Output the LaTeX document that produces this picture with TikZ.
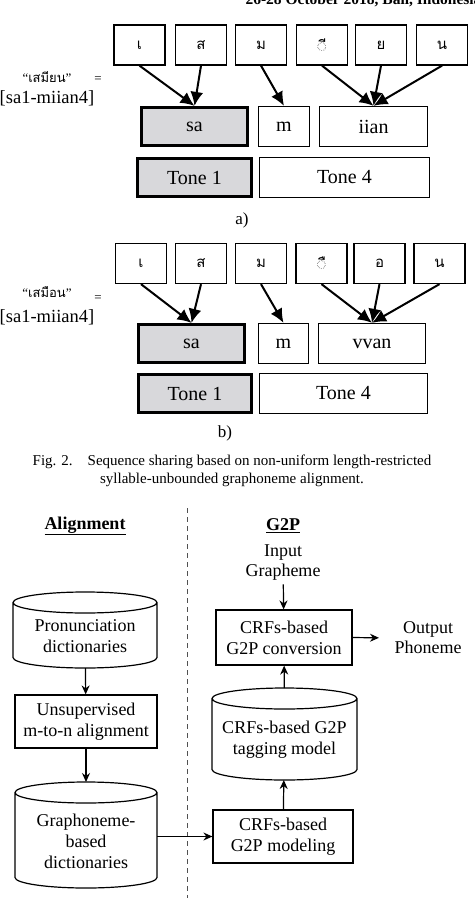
\documentclass[tikz,border=0pt]{standalone}
\usepackage{fontspec}
\setmainfont{Liberation Serif}
\newfontfamily\thaifont[Script=Thai]{Loma}
\usepackage{tikz}
\usepackage{xcolor}
\usetikzlibrary{arrows.meta,positioning,calc}
\definecolor{ashgray}{RGB}{216,216,219}
\definecolor{dashgray}{RGB}{80,80,80}
% text of a cylinder sits lower, below its top cap
\newcommand{\dropped}[2]{\raisebox{-#1}[\height][\depth]{\begin{tabular}{@{}c@{}}#2\end{tabular}}}

\begin{document}
\begin{tikzpicture}[x=1pt, y=-1pt,
  glyph/.style={draw, line width=1.3pt, minimum width=51pt, minimum height=40pt, inner sep=0pt, font=\thaifont\fontsize{15}{17}\selectfont},
  part/.style={draw, line width=1.3pt, minimum height=40pt, inner sep=0pt, font=\fontsize{20}{22}\selectfont},
  shared/.style={part, line width=3.2pt, fill=ashgray, minimum height=38pt},
  link/.style={-{Latex[length=14pt,width=13pt]}, line width=2pt},
  word/.style={font=\fontsize{18.5}{20}\selectfont},
  flowbox/.style={draw, line width=1.2pt, align=center, inner sep=0pt, font=\fontsize{18}{21}\selectfont},
  store/.style={flowbox, draw=none, outer sep=0pt, minimum width=#1pt,
    append after command={\pgfextra{\draw[line width=1.2pt]
      ([yshift=-10.5pt]\tikzlastnode.north west) -- ([yshift=10.5pt]\tikzlastnode.south west)
      arc[start angle=180, end angle=360, x radius=#1pt/2, y radius=10.5pt]
      -- ([yshift=-10.5pt]\tikzlastnode.north east)
      ([yshift=-10.5pt]\tikzlastnode.north) ellipse[x radius=#1pt/2, y radius=10.5pt];}}},
  flow/.style={-{Stealth[length=9pt,width=8pt]}, line width=1.2pt}]
\useasboundingbox (0,0) rectangle (474,917);

% page header
\node[anchor=base west, font=\bfseries\fontsize{15.5}{17}\selectfont] (header) at (242,5) {26-28 October 2018, Bali, Indonesia};

% a) letters of the first word
\node[glyph] (a1) at (139.5,45) {เ};
\node[glyph] (a2) at (201,45) {ส};
\node[glyph] (a3) at (261,45) {ม};
\node[glyph] (a4) at (322,45) {◌ี};
\node[glyph] (a5) at (381,45) {ย};
\node[glyph] (a6) at (442,45) {น};

\node[font=\fontsize{13}{15}\selectfont] (awordth) at (47,77) {“{\thaifont เสมียน}”};
\node[word] (awordro) at (47,98) {[sa1-miian4]};
\node[font=\fontsize{13}{14}\selectfont] (aeq) at (98,80) {=};

% a) units and tones
\node[shared, minimum width=106pt] (asa) at (194.5,126.5) {sa};
\node[part, minimum width=51pt] (am) at (284,126.5) {m};
\node[part, minimum width=108pt] (aiian) at (373.5,126.5) {iian};
\node[shared, minimum width=114pt] (atone1) at (194.5,177.5) {Tone 1};
\node[part, minimum width=170pt] (atone4) at (344.5,177.5) {Tone 4};

\draw[link] (a1.south) -- (asa.north);
\draw[link] (a2.south) -- (asa.north);
\draw[link] (a3.south) -- (am.north);
\draw[link] (a4.south) -- (aiian.north);
\draw[link] (a5.south) -- (aiian.north);
\draw[link] (a6.south) -- (aiian.north);

\node[font=\fontsize{17}{18}\selectfont] (alabel) at (242,220) {a)};

% b) letters of the second word
\node[glyph] (b1) at (141,263.5) {เ};
\node[glyph] (b2) at (201,263.5) {ส};
\node[glyph] (b3) at (261,263.5) {ม};
\node[glyph] (b4) at (321.5,263.5) {◌ื};
\node[glyph] (b5) at (379.5,263.5) {อ};
\node[glyph] (b6) at (439.5,263.5) {น};

\node[font=\fontsize{13}{15}\selectfont] (bwordth) at (47,292) {“{\thaifont เสมือน}”};
\node[word] (bwordro) at (47,317) {[sa1-miian4]};
\node[font=\fontsize{13}{14}\selectfont] (beq) at (98,299) {=};

% b) units and tones
\node[shared, minimum width=106pt] (bsa) at (191.5,343.5) {sa};
\node[part, minimum width=50pt] (bm) at (283.5,343.5) {m};
\node[part, minimum width=107pt] (bvvan) at (372,343.5) {vvan};
\node[shared, minimum width=113pt] (btone1) at (195,393.5) {Tone 1};
\node[part, minimum width=168pt] (btone4) at (343.5,393.5) {Tone 4};

\draw[link] (b1.south) -- (bsa.north);
\draw[link] (b2.south) -- (bsa.north);
\draw[link] (b3.south) -- (bm.north);
\draw[link] (b4.south) -- (bvvan.north);
\draw[link] (b5.south) -- (bvvan.north);
\draw[link] (b6.south) -- (bvvan.north);

\node[font=\fontsize{17}{18}\selectfont] (blabel) at (225,433) {b)};

% caption of fig. 2
\node[align=center, font=\fontsize{15}{18}\selectfont] (caption) at (232,471) {Fig. 2.\hspace{1em}Sequence sharing based on non-uniform length-restricted\\syllable-unbounded graphoneme alignment.};

% overview: two halves
\coordinate (septop) at (187,508);
\coordinate (sepbot) at (187,898);
\draw[dashgray, line width=1pt, dash pattern=on 5pt off 4pt] (septop) -- (sepbot);

\node[font=\bfseries\fontsize{18}{20}\selectfont] (alignhead) at (85,526) {\underline{Alignment}};
\node[font=\bfseries\fontsize{18}{20}\selectfont] (g2phead) at (283,526) {\underline{G2P}};

% alignment side
\node[store=144, minimum height=76pt] (pron) at (85,630) {\dropped{7.5pt}{Pronunciation\\dictionaries}};
\node[flowbox, minimum width=142pt, minimum height=53pt] (unsup) at (86,721.5) {Unsupervised\\m-to-n alignment};
\node[store=142, minimum height=106pt] (grapho) at (86,835) {\dropped{8.5pt}{Graphoneme-\\based\\dictionaries}};

% g2p side
\node[align=center, font=\fontsize{18}{20}\selectfont] (input) at (283,563) {Input\\Grapheme};
\node[flowbox, minimum width=136pt, minimum height=55pt] (conv) at (284,637.5) {CRFs-based\\G2P conversion};
\node[align=center, font=\fontsize{18}{20}\selectfont] (output) at (428,638) {Output\\Phoneme};
\node[store=145, minimum height=92pt] (tagging) at (284.5,734) {\dropped{6pt}{CRFs-based G2P\\tagging model}};
\node[flowbox, minimum width=140pt, minimum height=53pt] (model) at (283,836.5) {CRFs-based\\G2P modeling};

\draw[flow] (pron) -- (unsup);
\draw[flow] (unsup) -- (grapho);
\draw[flow] (grapho.east |- model.west) -- (model.west);
\draw[flow] (model) -- (tagging);
\draw[flow] (tagging) -- (conv);
\draw[flow] (input) -- (conv);
\draw[flow, shorten >=12pt] (conv.east) -- (output.west);
\end{tikzpicture}
\end{document}
